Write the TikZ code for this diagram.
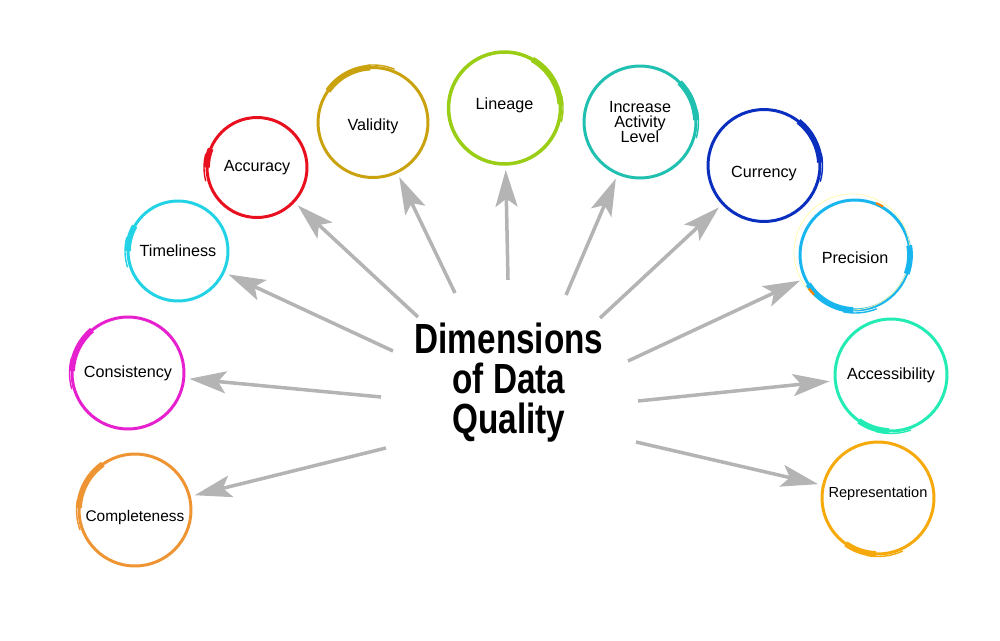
\documentclass[tikz,border=0pt]{standalone}
\usepackage{fontspec}
\setmainfont{Liberation Sans}
\newfontfamily\titlefont[FakeStretch=0.79]{Liberation Sans Bold}
\usepackage{tikz}
\usetikzlibrary{arrows.meta}

\definecolor{linkgray}{HTML}{B4B4B4}
\definecolor{timcol}{HTML}{22D3E6}
\definecolor{acccol}{HTML}{E8101E}
\definecolor{valcol}{HTML}{C9A20E}
\definecolor{lincol}{HTML}{9ACD16}
\definecolor{inccol}{HTML}{1FC0B0}
\definecolor{curcol}{HTML}{0A2FBF}
\definecolor{precol}{HTML}{19B5EE}
\definecolor{asscol}{HTML}{22EBB4}
\definecolor{repcol}{HTML}{F5A90A}
\definecolor{concol}{HTML}{E620CF}
\definecolor{comcol}{HTML}{EE9433}

\begin{document}
\begin{tikzpicture}[
    x=0.02cm, y=0.02cm,
    dim/.style={circle, draw, line width=1.7pt, minimum size=2.24cm, inner sep=0pt, align=center, font=\fontsize{9.2}{8.8}\selectfont},
    small/.style={dim, minimum size=2.0cm},
    brush/.style={line width=3.3pt},
    tail/.style={line width=0.8pt},
    link/.style={draw=linkgray, line width=2pt, -{Stealth[length=0.74cm, width=0.44cm, inset=0.16cm]}, shorten >=0.08cm}
]
\useasboundingbox (0,0) rectangle (1000,640);

% --- Title ---
\node[font=\titlefont\fontsize{24}{22.8}\selectfont, align=center] (title) at (509, 257) {Dimensions\\of Data\\Quality};

% --- Dimension circles (left side) ---
\node[small, draw=timcol] (tim) at (178, 389) {Timeliness};
\node[small, draw=acccol] (acc) at (257, 472.5) {Accuracy};
\node[dim, draw=valcol, minimum size=2.2cm] (val) at (373, 517.5) {\raisebox{-0.07cm}[\height][\depth]{Validity}};
\node[dim, draw=lincol, line width=2pt] (lin) at (504.5, 532) {\raisebox{0.06cm}[\height][\depth]{Lineage}};
\node[dim, draw=concol] (con) at (128, 267) {Consistency};
\node[dim, draw=comcol, font=\fontsize{8.8}{10}\selectfont] (com) at (135, 130) {\raisebox{-0.14cm}[\height][\depth]{Completeness}};

% --- Dimension circles (right side) ---
\node[dim, draw=inccol] (inc) at (640, 518) {Increase\\Activity\\Level};
\node[dim, draw=curcol] (cur) at (764, 474.5) {\raisebox{-0.16cm}[\height][\depth]{Currency}};
\node[dim, draw=precol, minimum size=2.2cm] (pre) at (855, 385) {\raisebox{-0.06cm}[\height][\depth]{Precision}};
\node[dim, draw=asscol] (ass) at (891, 265) {Accessibility};
\node[dim, draw=repcol, font=\fontsize{8.3}{10}\selectfont] (rep) at (878, 142) {\raisebox{0.08cm}[\height][\depth]{Representation}};

% Brush strokes (thick start, thin overlapping end)
\draw[brush, timcol] (tim.center) ++(150:50) arc[start angle=150, end angle=180, radius=50];
\draw[tail, timcol] (tim.center) ++(165:53) arc[start angle=165, end angle=198, radius=53];
\draw[brush, acccol] (acc.center) ++(158:50) arc[start angle=158, end angle=180, radius=50];
\draw[tail, acccol] (acc.center) ++(165:53) arc[start angle=165, end angle=195, radius=53];
\draw[brush, valcol] (val.center) ++(93:55) arc[start angle=93, end angle=145, radius=55];
\draw[tail, valcol] (val.center) ++(68:57.5) arc[start angle=68, end angle=96, radius=57.5];
\draw[brush, lincol] (lin.center) ++(60:56) arc[start angle=60, end angle=4, radius=56];
\draw[tail, lincol] (lin.center) ++(12:58.5) arc[start angle=12, end angle=-14, radius=58.5];
\draw[brush, inccol] (inc.center) ++(45:56) arc[start angle=45, end angle=2, radius=56];
\draw[tail, inccol] (inc.center) ++(12:58.5) arc[start angle=12, end angle=-16, radius=58.5];
\draw[brush, curcol] (cur.center) ++(52:56) arc[start angle=52, end angle=3, radius=56];
\draw[tail, curcol] (cur.center) ++(12:58.5) arc[start angle=12, end angle=-16, radius=58.5];
\draw[yellow!35, line width=0.4pt] (852, 388) circle[radius=58];
\draw[brush, precol] (pre.center) ++(212:55) arc[start angle=212, end angle=268, radius=55];
\draw[brush, precol] (pre.center) ++(10:55) arc[start angle=10, end angle=-20, radius=55];
\draw[tail, precol] (pre.center) ++(258:58) arc[start angle=258, end angle=292, radius=58];
\draw[line width=1.2pt, orange] (pre.center) ++(60:56) arc[start angle=60, end angle=68, radius=56];
\draw[line width=1.2pt, orange] (pre.center) ++(216:57) arc[start angle=216, end angle=224, radius=57];
\draw[brush, asscol] (ass.center) ++(235:56) arc[start angle=235, end angle=268, radius=56];
\draw[tail, asscol] (ass.center) ++(255:58.5) arc[start angle=255, end angle=290, radius=58.5];
\draw[brush, repcol] (rep.center) ++(235:56) arc[start angle=235, end angle=268, radius=56];
\draw[tail, repcol] (rep.center) ++(258:58.5) arc[start angle=258, end angle=295, radius=58.5];
\draw[brush, concol] (con.center) ++(130:56) arc[start angle=130, end angle=178, radius=56];
\draw[tail, concol] (con.center) ++(165:58.5) arc[start angle=165, end angle=196, radius=58.5];
\draw[brush, comcol] (com.center) ++(125:56) arc[start angle=125, end angle=178, radius=56];
\draw[tail, comcol] (com.center) ++(170:58.5) arc[start angle=170, end angle=200, radius=58.5];

% --- Arrows from the title ---
\coordinate (sCom) at (386, 192);
\coordinate (sCon) at (381, 243);
\coordinate (sTim) at (393, 289);
\coordinate (sAcc) at (418, 323);
\coordinate (sVal) at (455, 347);
\coordinate (sLin) at (508, 360);
\coordinate (sInc) at (566, 345);
\coordinate (sCur) at (600, 322);
\coordinate (sPre) at (628, 279);
\coordinate (sAss) at (638, 239);
\coordinate (sRep) at (636, 198);

\draw[link] (sCom) -- (com);
\draw[link] (sCon) -- (con);
\draw[link] (sTim) -- (tim);
\draw[link] (sAcc) -- (acc);
\draw[link] (sVal) -- (val);
\draw[link] (sLin) -- (lin);
\draw[link] (sInc) -- (inc);
\draw[link] (sCur) -- (cur);
\draw[link] (sPre) -- (pre);
\draw[link] (sAss) -- (ass);
\draw[link] (sRep) -- (rep);

\end{tikzpicture}
\end{document}
